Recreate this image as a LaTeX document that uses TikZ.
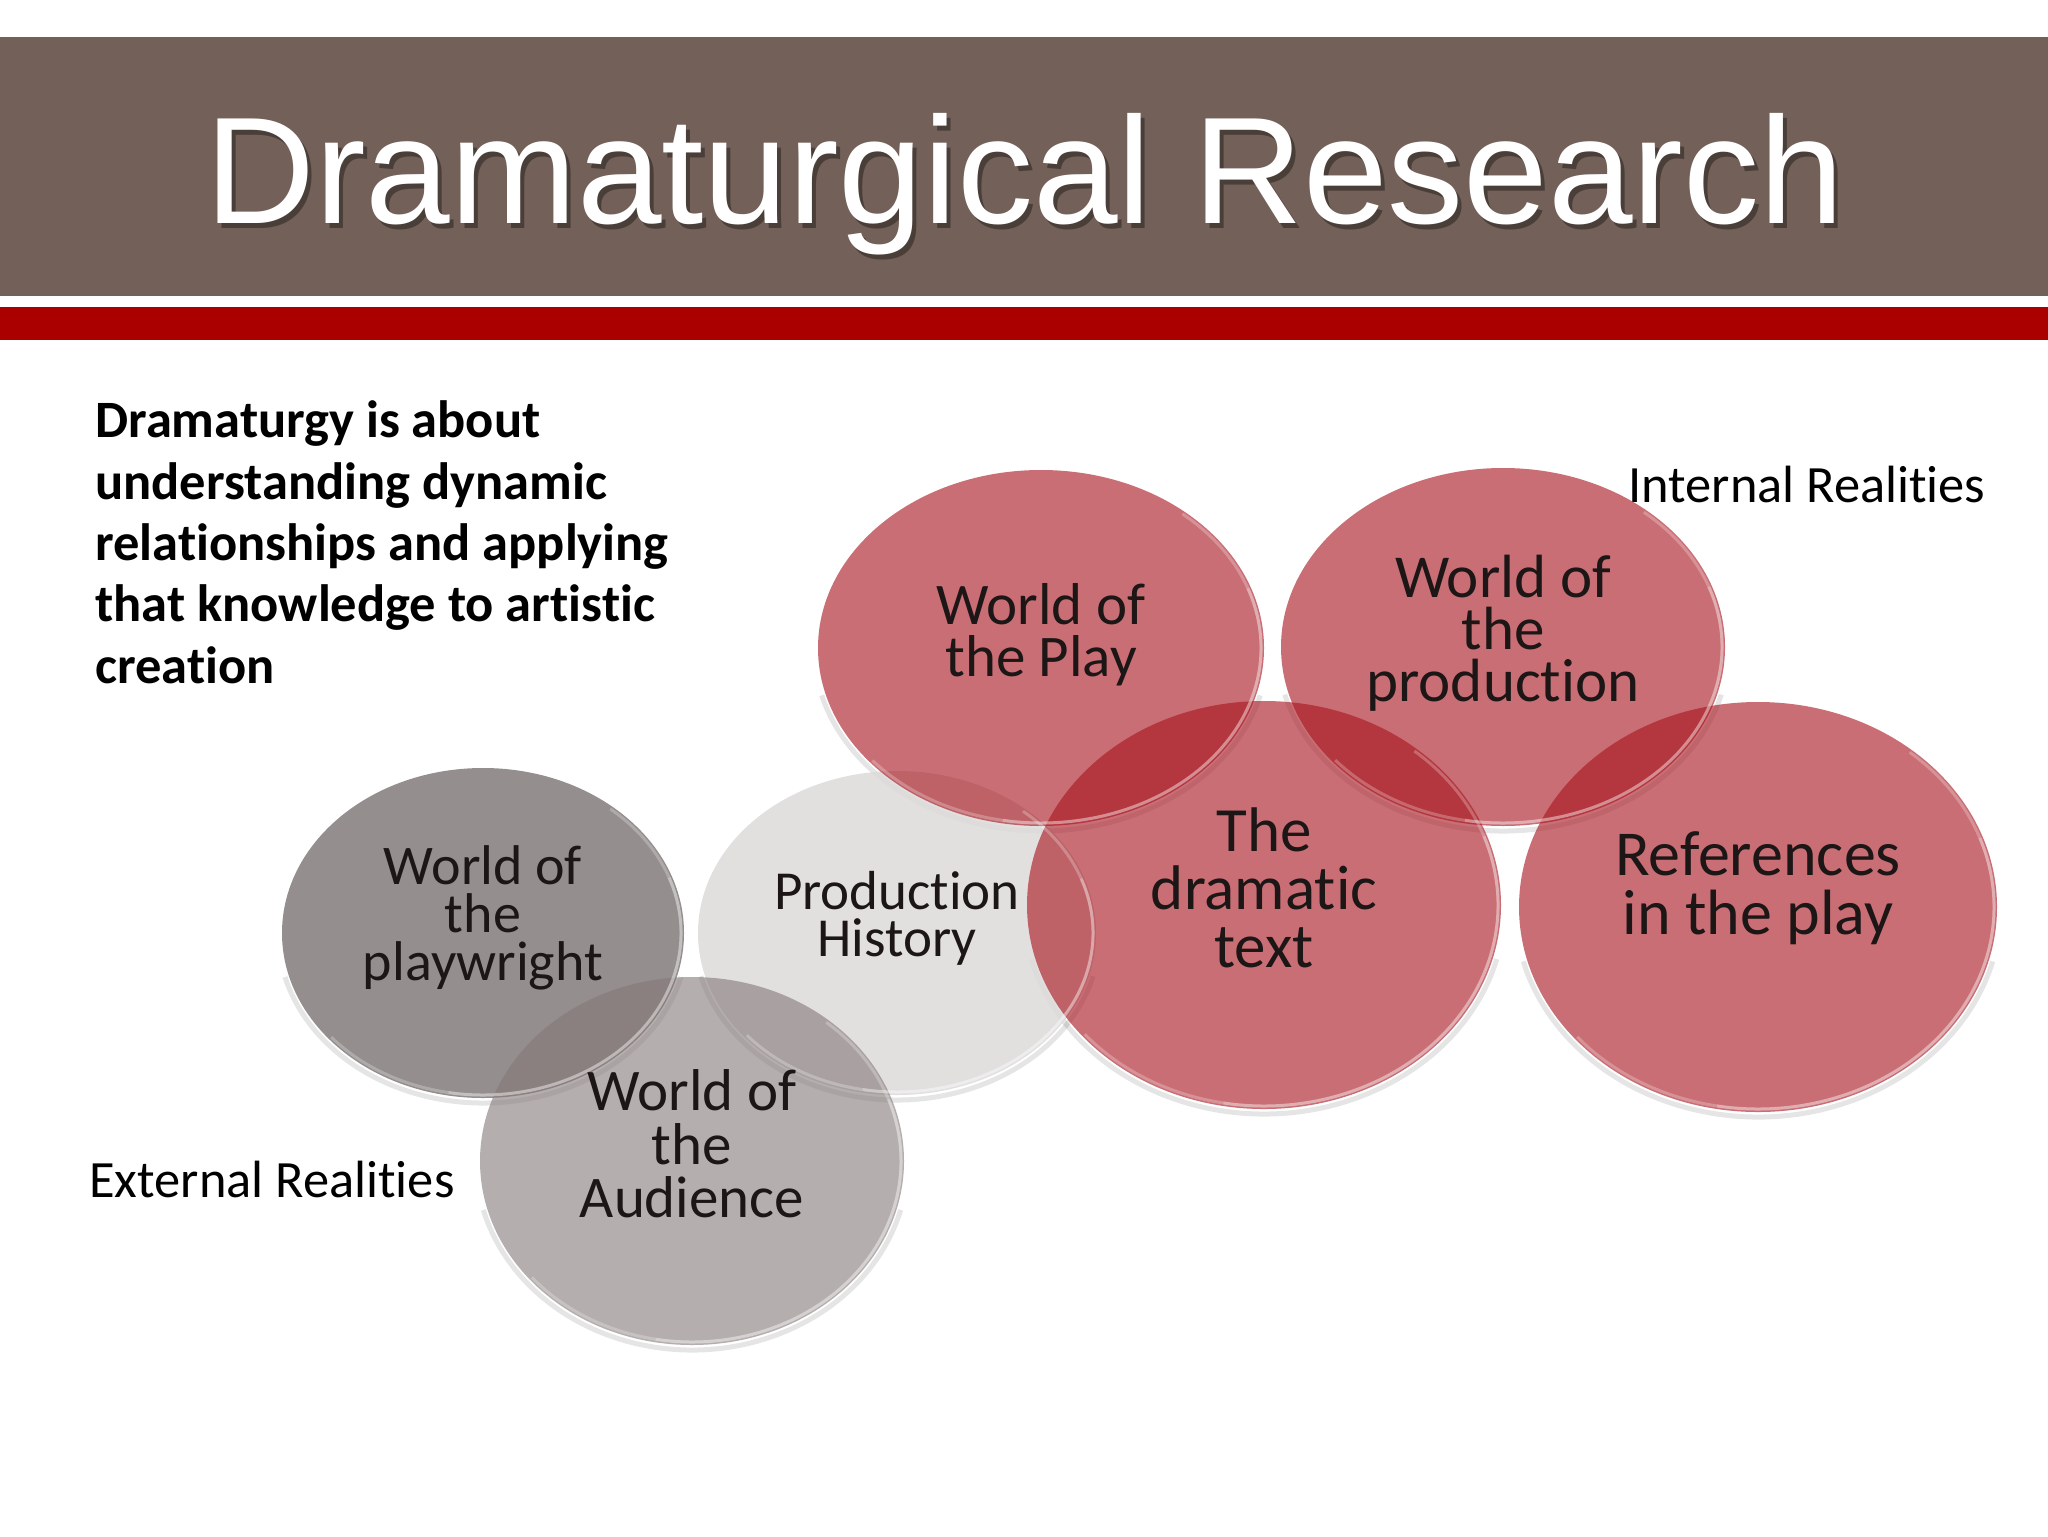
\documentclass[tikz,border=0pt]{standalone}
\usepackage{fontspec}
\setmainfont{Carlito}[Ligatures=NoCommon]
\newfontfamily\titlefont{Liberation Sans}
\usepackage{tikz}
\usetikzlibrary{positioning, shapes.geometric}

\definecolor{barbrown}{RGB}{114,96,89}
\definecolor{barred}{RGB}{170,0,0}
\definecolor{discred}{RGB}{168,22,32}
\definecolor{discdark}{RGB}{143,136,136}
\definecolor{discmid}{RGB}{132,120,120}
\definecolor{disclight}{RGB}{221,218,218}
\definecolor{disctext}{RGB}{28,22,22}

\begin{document}
\begin{tikzpicture}[x=0.5pt, y=-0.5pt,
  disc/.style={ellipse, inner sep=0pt, outer sep=0pt},
  reddisc/.style={disc, fill=discred, fill opacity=0.62},
  darkdisc/.style={disc, fill=discdark, fill opacity=0.95},
  lightdisc/.style={disc, fill=disclight, fill opacity=0.85},
  middisc/.style={disc, fill=discmid, fill opacity=0.6},
  disclabel/.style={align=center, text=disctext, inner sep=0pt},
  shadowarc/.style={line width=2.5pt, black, opacity=0.10},
  rimarc/.style={line width=1.5pt, white, opacity=0.25}]

\useasboundingbox (0,0) rectangle (2048,1536) ;
\fill[white] (0,0) rectangle (2048,1536) ;
\fill[barbrown] (0,37) rectangle (2048,296) ;
\fill[barred] (0,307) rectangle (2048,340) ;

\node[anchor=base, inner sep=0pt, black, opacity=0.35] at (1029,228) (titleshadow) {\titlefont\fontsize{76pt}{80pt}\selectfont Dramaturgical Research} ;
\node[anchor=base, inner sep=0pt, white] at (1025,223) (title) {\titlefont\fontsize{76pt}{80pt}\selectfont Dramaturgical Research} ;

\node[anchor=base west, align=left, inner sep=0pt, font=\fontsize{26.25pt}{30.65pt}\selectfont\bfseries] at (95,683) (intro) {Dramaturgy is about\\ understanding dynamic\\ relationships and applying\\ that knowledge to artistic\\ creation} ;

\node[anchor=base west, inner sep=0pt] at (1628,502) (internal) {\fontsize{26.2pt}{31pt}\selectfont Internal Realities} ;
\node[anchor=base west, inner sep=0pt] at (89,1197) (external) {\fontsize{26.2pt}{31pt}\selectfont External Realities} ;

\foreach \cx/\cy/\rx/\ry in {483/933/201/165, 897/933/199/162, 692/1161/212/184, 1041/648/223/178, 1503/647/222/179, 1264/905/237/204, 1758/907/239/205}
  \draw[shadowarc] (\cx,\cy) ++(15:\rx+4 and \ry+5) arc[start angle=15, end angle=165, x radius=\rx+4, y radius=\ry+5] ;

\node[darkdisc, minimum width=201pt, minimum height=165pt] at (483,933) (playwright) {} ;
\node[lightdisc, minimum width=199pt, minimum height=162pt] at (897,933) (history) {} ;
\node[middisc, minimum width=212pt, minimum height=184pt] at (692,1161) (audience) {} ;
\node[reddisc, minimum width=223pt, minimum height=178pt] at (1041,648) (play) {} ;
\node[reddisc, minimum width=222pt, minimum height=179pt] at (1503,647) (production) {} ;
\node[reddisc, minimum width=237pt, minimum height=204pt] at (1264,905) (dramatic) {} ;
\node[reddisc, minimum width=239pt, minimum height=205pt] at (1758,907) (references) {} ;

\foreach \cx/\cy/\rx/\ry in {483/933/201/165, 897/933/199/162, 692/1161/212/184, 1041/648/223/178, 1503/647/222/179, 1264/905/237/204, 1758/907/239/205} {
  \draw[rimarc] (\cx,\cy) ++(-50:\rx-3 and \ry-3) arc[start angle=-50, end angle=140, x radius=\rx-3, y radius=\ry-3] ;
  \draw[rimarc] (\cx,\cy) ++(-20:\rx-3 and \ry-3) arc[start angle=-20, end angle=100, x radius=\rx-3, y radius=\ry-3] ;
}

\node[disclabel, font=\fontsize{28pt}{24pt}\selectfont] at ([yshift=7.5pt]playwright.center) (playwrighttext) {World of\\ the\\ playwright} ;
\node[disclabel, font=\fontsize{27.5pt}{23.5pt}\selectfont] at ([yshift=7.5pt]history.center) (historytext) {Production\\ History} ;
\node[disclabel, font=\fontsize{29.5pt}{26.75pt}\selectfont] at ([yshift=8.5pt]audience.center) (audiencetext) {World of\\ the\\ Audience} ;
\node[disclabel, font=\fontsize{29.5pt}{26pt}\selectfont] at ([yshift=6.5pt]play.center) (playtext) {World of\\ the Play} ;
\node[disclabel, font=\fontsize{30.5pt}{26pt}\selectfont] at ([yshift=7pt]production.center) (productiontext) {World of\\ the\\ production} ;
\node[disclabel, font=\fontsize{31.5pt}{29pt}\selectfont] at ([yshift=8.5pt]dramatic.center) (dramatictext) {The\\ dramatic\\ text} ;
\node[disclabel, font=\fontsize{32pt}{29.5pt}\selectfont] at ([yshift=9.5pt]references.center) (referencestext) {References\\ in the play} ;
\end{tikzpicture}
\end{document}
